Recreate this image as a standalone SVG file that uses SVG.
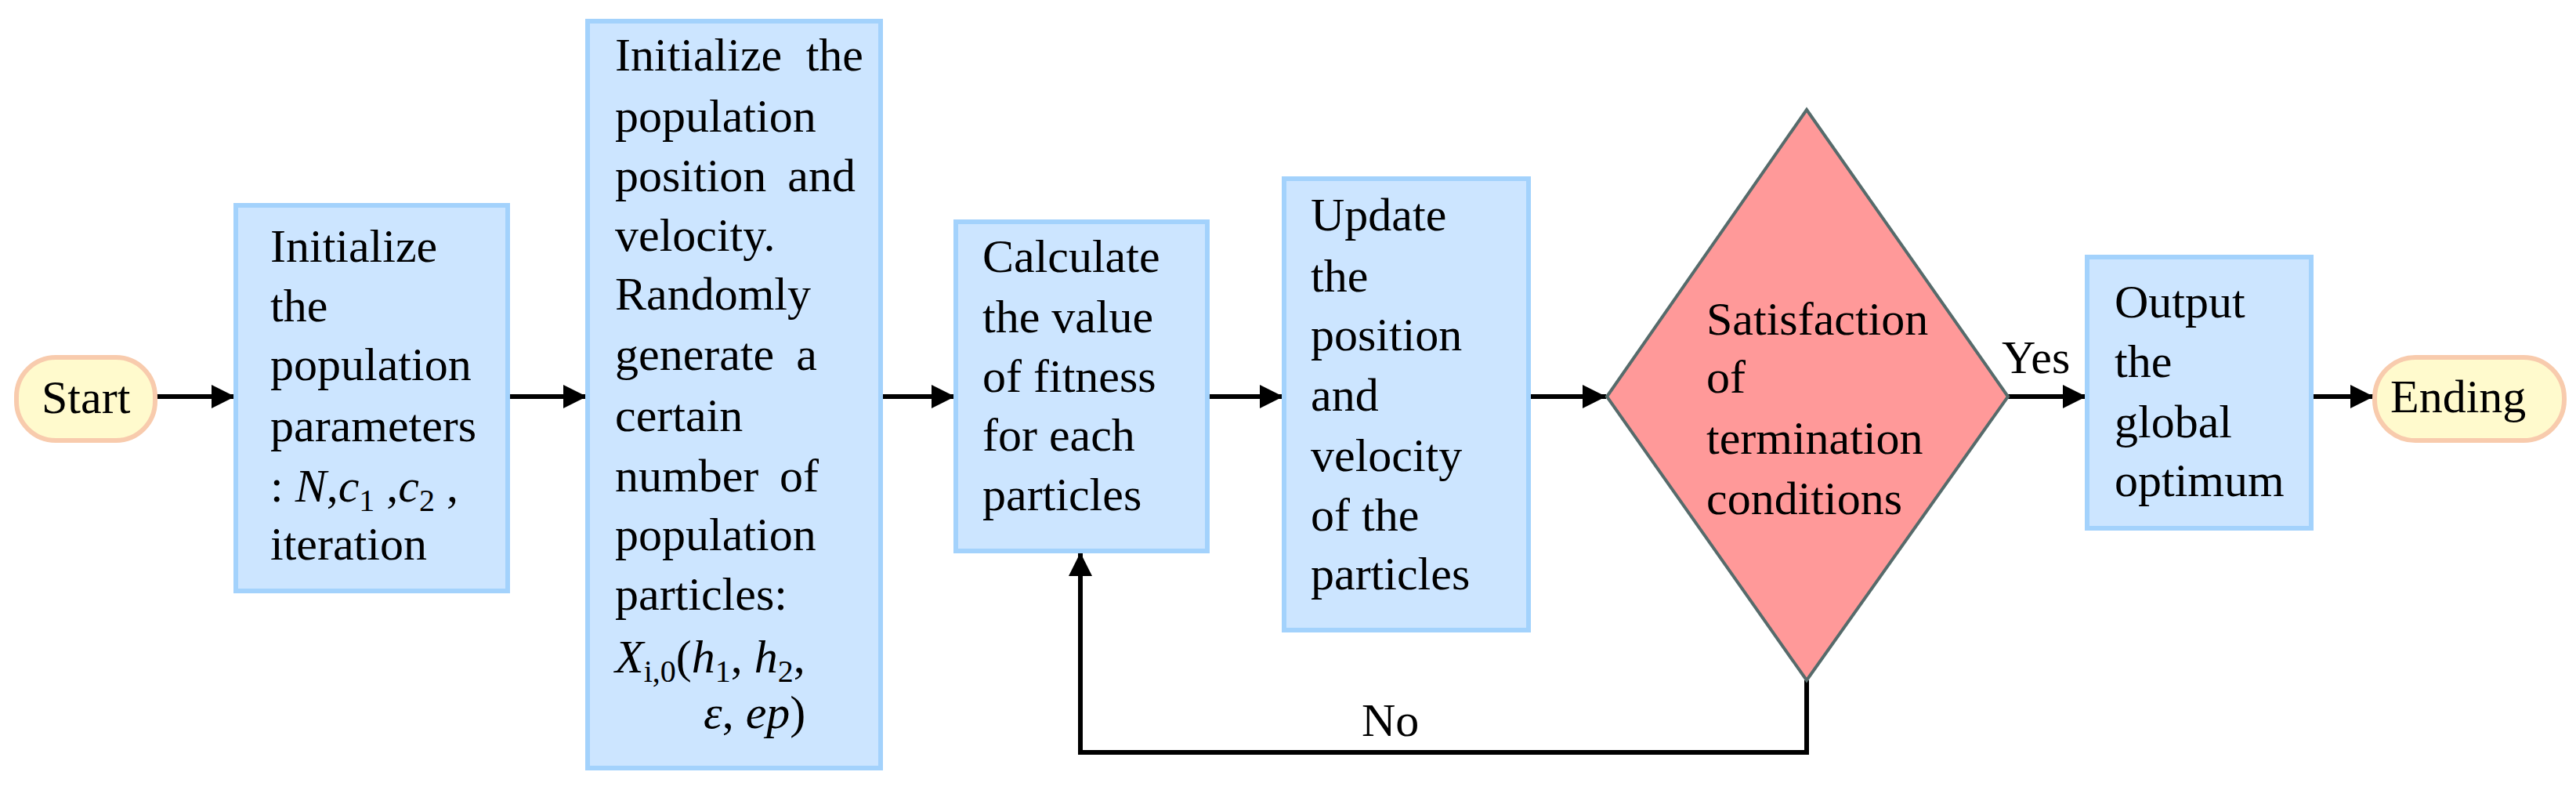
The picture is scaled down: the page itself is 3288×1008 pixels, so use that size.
<svg xmlns="http://www.w3.org/2000/svg" width="3288" height="1008" viewBox="0 0 3288 1008">
<style>
text{font-family:"Liberation Serif","Times New Roman",serif;font-size:60px;fill:#000}
.box{fill:#cce5ff;stroke:#a3d2fc;stroke-width:6}
.term{fill:#fffacd;stroke:#f8cbad;stroke-width:6}
.dia{fill:#ff9999;stroke:#566b6b;stroke-width:4}
.c{fill:none;stroke:#000;stroke-width:6}
.m{font-style:italic}
.s{font-size:40px;font-style:normal}
</style>
<defs>
<marker id="a" viewBox="0 0 10 10" refX="10" refY="5" markerWidth="5" markerHeight="5" markerUnits="strokeWidth" orient="auto"><path d="M0,0L10,5L0,10z" fill="#000"/></marker>
</defs>
<rect width="3288" height="1008" fill="#fff"/>
<g id="connectors">
<path class="c" d="M199,506H300" marker-end="url(#a)"/>
<path class="c" d="M648,506H749" marker-end="url(#a)"/>
<path class="c" d="M1124,506H1219" marker-end="url(#a)"/>
<path class="c" d="M1541,506H1638" marker-end="url(#a)"/>
<path class="c" d="M1951,506H2050" marker-end="url(#a)"/>
<path class="c" d="M2563,506H2663" marker-end="url(#a)"/>
<path class="c" d="M2950,506H3030" marker-end="url(#a)"/>
<path class="c" d="M2306,868V960H1379V705" marker-end="url(#a)"/>
<text x="1738" y="939">No</text>
<text x="2555" y="476">Yes</text>
</g>
<g id="start"><rect class="term" x="21" y="456" width="177" height="106" rx="50"/><text x="53" y="527">Start</text></g>
<g id="init-params"><rect class="box" x="301" y="262" width="347" height="492"/>
<text x="345" y="334">Initialize</text><text x="345" y="410">the</text><text x="345" y="485">population</text><text x="345" y="563">parameters</text>
<text x="345" y="640">: <tspan class="m">N</tspan>,<tspan class="m">c</tspan><tspan class="s" dy="12">1</tspan><tspan dy="-12"> ,</tspan><tspan class="m">c</tspan><tspan class="s" dy="12">2</tspan><tspan dy="-12"> ,</tspan></text>
<text x="345" y="714">iteration</text></g>
<g id="init-pop"><rect class="box" x="750" y="27" width="374" height="953"/>
<text x="785" y="90">Initialize</text><text x="1102" y="90" text-anchor="end">the</text>
<text x="785" y="168">population</text>
<text x="785" y="244">position</text><text x="1092" y="244" text-anchor="end">and</text>
<text x="785" y="320">velocity.</text>
<text x="785" y="395">Randomly</text>
<text x="785" y="472">generate</text><text x="1043" y="472" text-anchor="end">a</text>
<text x="785" y="550">certain</text>
<text x="785" y="627">number</text><text x="1045" y="627" text-anchor="end">of</text>
<text x="785" y="702">population</text>
<text x="785" y="778">particles:</text>
<text x="785" y="858"><tspan class="m">X</tspan><tspan class="s m" dy="12">i</tspan><tspan class="s" dy="0">,0</tspan><tspan dy="-12">(</tspan><tspan class="m">h</tspan><tspan class="s" dy="12">1</tspan><tspan dy="-12">, </tspan><tspan class="m">h</tspan><tspan class="s" dy="12">2</tspan><tspan dy="-12">,</tspan></text>
<text x="898" y="929"><tspan class="m">ε</tspan>, <tspan class="m">ep</tspan>)</text></g>
<g id="fitness"><rect class="box" x="1220" y="283" width="321" height="420"/>
<text x="1254" y="347">Calculate</text><text x="1254" y="424">the value</text><text x="1254" y="500">of fitness</text><text x="1254" y="575">for each</text><text x="1254" y="651">particles</text></g>
<g id="update"><rect class="box" x="1639" y="228" width="312" height="576"/>
<text x="1673" y="294">Update</text><text x="1673" y="372">the</text><text x="1673" y="447">position</text><text x="1673" y="524">and</text><text x="1673" y="601">velocity</text><text x="1673" y="677">of the</text><text x="1673" y="752">particles</text></g>
<g id="decision"><path class="dia" d="M2306,140L2563,506L2306,868L2051,506z"/>
<text x="2178" y="427">Satisfaction</text><text x="2178" y="501">of</text><text x="2178" y="579">termination</text><text x="2178" y="656">conditions</text></g>
<g id="output"><rect class="box" x="2664" y="328" width="286" height="346"/>
<text x="2699" y="405">Output</text><text x="2699" y="481">the</text><text x="2699" y="558">global</text><text x="2699" y="633">optimum</text></g>
<g id="ending"><rect class="term" x="3031" y="456" width="242" height="106" rx="52"/><text x="3051" y="526">Ending</text></g>
</svg>
